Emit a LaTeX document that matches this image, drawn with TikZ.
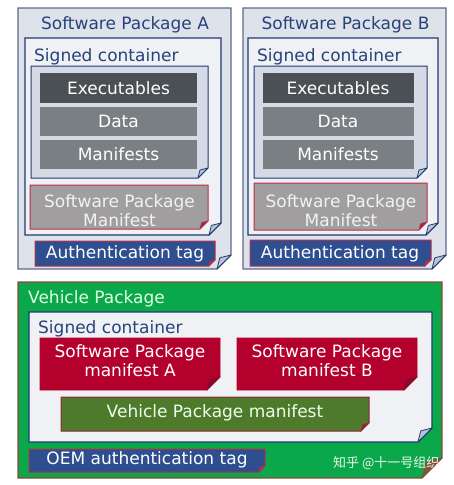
\documentclass[tikz,border=0pt]{standalone}
\usepackage{fontspec}
\setmainfont{DejaVu Sans}
\newfontfamily\cjkfont{Noto Sans CJK SC}

\definecolor{pkgfill}{HTML}{DEE2EA}
\definecolor{pkgline}{HTML}{5B6B8C}
\definecolor{scfill}{HTML}{F0F1F4}
\definecolor{navy}{HTML}{1F3A70}
\definecolor{innerfill}{HTML}{D4DBE7}
\definecolor{foldlight}{HTML}{B9C4D8}
\definecolor{exegray}{HTML}{4B5054}
\definecolor{midgray}{HTML}{7A7F83}
\definecolor{mangray}{HTML}{A19E9F}
\definecolor{crimsonline}{HTML}{B5304C}
\definecolor{tagblue}{HTML}{2E4E8F}
\definecolor{vehgreen}{HTML}{0BA84B}
\definecolor{vehline}{HTML}{8A4A36}
\definecolor{vehfoldc}{HTML}{7A5A35}
\definecolor{crimson}{HTML}{B3002D}
\definecolor{crimsondark}{HTML}{8A0A2A}
\definecolor{olive}{HTML}{4E7B2B}
\definecolor{titleblue}{HTML}{26437A}

% box with a folded bottom-right corner
% #1 box style, #2 fold style, #3 fold size, #4,#5 top left, #6,#7 bottom right
\newcommand{\foldbox}[7]{%
  \draw[#1] (#4,#5) -- (#6,#5) -- (#6,#7-#3) -- (#6-#3,#7) -- (#4,#7) -- cycle;
  \draw[#2] (#6,#7-#3) -- (#6-#3,#7) -- (#6-0.8*#3,#7-0.8*#3) -- cycle;
}

\tikzset{
  pkg/.style={fill=pkgfill, draw=pkgline, line width=1.2pt},
  sc/.style={fill=scfill, draw=navy, line width=1.2pt},
  innerbox/.style={fill=innerfill, draw=navy, line width=1pt},
  lightfold/.style={fill=foldlight, draw=navy, line width=0.8pt, line join=round},
  spm/.style={fill=mangray, draw=crimsonline, line width=1pt},
  spmfold/.style={fill=crimsonline!85!black, draw=crimsonline, line width=0.6pt},
  tag/.style={fill=tagblue, draw=crimsonline, line width=1pt},
  tagfold/.style={fill=crimsonline, draw=crimsonline, line width=0.5pt},
  veh/.style={fill=vehgreen, draw=vehline, line width=1.2pt},
  vehfold/.style={fill=vehfoldc, draw=vehline, line width=0.6pt},
  crim/.style={fill=crimson, draw=crimson, line width=0.8pt},
  crimfold/.style={fill=crimsondark, draw=crimsondark, line width=0.5pt},
  olivebox/.style={fill=olive, draw=crimsonline!80!black, line width=1pt},
  olivefold/.style={fill=crimsonline!80!black, draw=crimsonline!80!black, line width=0.5pt},
  txt/.style={font=\fontsize{17}{19}\selectfont, inner sep=0pt},
  title/.style={txt, text=titleblue, anchor=base},
  sclabel/.style={txt, text=titleblue, anchor=base west},
  bar/.style={txt, text=white, minimum height=29pt},
  boxtext/.style={txt, text=white, align=center}
}

\begin{document}
\begin{tikzpicture}[x=1pt, y=-1pt]
  \useasboundingbox[fill=white] (0,0) rectangle (454,485);

  % Software Package A
  \foldbox{pkg}{lightfold}{14}{18}{8}{231}{269}
  \node[title] (titleA) at (125,29) {Software Package A};
  \foldbox{sc}{lightfold}{12}{25}{38}{221}{235}
  \node[sclabel] (scA) at (34,61) {Signed container};
  \foldbox{innerbox}{lightfold}{10}{31}{66}{208}{178}
  \node[bar, fill=exegray, minimum width=157pt, minimum height=30pt] (exeA) at (118.5,88) {Executables};
  \node[bar, fill=midgray, minimum width=157pt] (dataA) at (118.5,121.5) {Data};
  \node[bar, fill=midgray, minimum width=157pt] (manA) at (118.5,154.5) {Manifests};
  \foldbox{spm}{spmfold}{8}{30}{185}{208}{229}
  \node[boxtext, text=white!95!black] (spmA) at (119.5,210.5) {Software Package\\Manifest};
  \foldbox{tag}{tagfold}{6}{35}{241}{215}{266}
  \node[txt, text=white, anchor=base] (authA) at (125,258) {Authentication tag};

  % Software Package B
  \foldbox{pkg}{lightfold}{14}{243}{8}{446}{269}
  \node[title] (titleB) at (345.5,29) {Software Package B};
  \foldbox{sc}{lightfold}{12}{248}{38}{438}{235}
  \node[sclabel] (scB) at (257,61) {Signed container};
  \foldbox{innerbox}{lightfold}{10}{254}{66}{427}{178}
  \node[bar, fill=exegray, minimum width=151pt, minimum height=30pt] (exeB) at (338,88) {Executables};
  \node[bar, fill=midgray, minimum width=151pt] (dataB) at (338,121.5) {Data};
  \node[bar, fill=midgray, minimum width=151pt] (manB) at (338,154.5) {Manifests};
  \foldbox{spm}{spmfold}{8}{254}{183}{427}{230}
  \node[boxtext, text=white!95!black] (spmB) at (341,210.5) {Software Package\\Manifest};
  \foldbox{tag}{tagfold}{6}{250}{240}{431}{266}
  \node[txt, text=white, anchor=base] (authB) at (340,258) {Authentication tag};

  % Vehicle Package
  \foldbox{veh}{vehfold}{20}{18}{282}{442}{478}
  \node[txt, text=white!88!green, anchor=base west] (vehTitle) at (28,303) {Vehicle Package};
  \foldbox{sc}{lightfold}{14}{29}{312}{432}{442}
  \node[sclabel] (scV) at (38,333) {Signed container};
  \foldbox{crim}{crimfold}{13}{40}{338}{220}{390}
  \node[boxtext] (vmA) at (130,360.5) {Software Package\\manifest A};
  \foldbox{crim}{crimfold}{13}{237}{338}{417}{390}
  \node[boxtext] (vmB) at (327,360.5) {Software Package\\manifest B};
  \foldbox{olivebox}{olivefold}{8}{61}{397}{369}{431}
  \node[txt, text=white!92!green, anchor=base] (vpm) at (215,417) {Vehicle Package manifest};
  \foldbox{tag}{tagfold}{6}{29}{449}{265}{472}
  \node[txt, text=white, anchor=base] (oem) at (147,464) {OEM authentication tag};

  % watermark
  \node[inner sep=0pt, anchor=base west, text=white, opacity=0.9,
        font=\fontsize{13}{15}\cjkfont] (mark) at (333,467) {知乎 @十一号组织};
\end{tikzpicture}
\end{document}
